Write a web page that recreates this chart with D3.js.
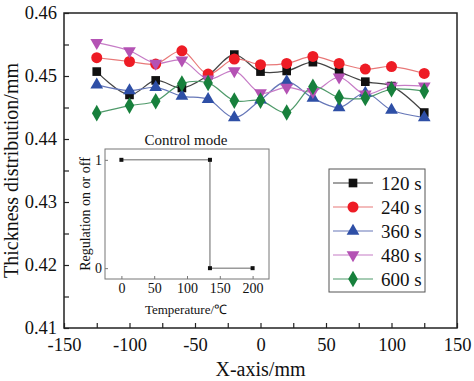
<!DOCTYPE html>
<html><head><meta charset="utf-8">
<script src="https://cdn.jsdelivr.net/npm/d3@7"></script>
<style>body{margin:0;background:#fff}svg{display:block}</style>
</head><body>
<script>
const xPos = [-125,-100,-80,-60,-40,-20,0,20,40,60,80,100,125];
const s120 = [0.4507,0.4470,0.4493,0.4481,0.4501,0.4534,0.4507,0.4508,0.4522,0.4507,0.4491,0.4484,0.4442];
const s240 = [0.4529,0.4523,0.4519,0.4540,0.4503,0.4527,0.4518,0.4520,0.4531,0.4520,0.4511,0.4515,0.4504];
const s360 = [0.4486,0.4477,0.4482,0.4468,0.4463,0.4434,0.4462,0.4491,0.4465,0.4450,0.4473,0.4446,0.4434];
const s480 = [0.4553,0.4540,0.4520,0.4525,0.4495,0.4508,0.4473,0.4482,0.4475,0.4498,0.4471,0.4484,0.4484];
const s600 = [0.4441,0.4453,0.4460,0.4488,0.4489,0.4461,0.4461,0.4442,0.4483,0.4466,0.4465,0.4479,0.4476];
const seriesNames = ["120 s","240 s","360 s","480 s","600 s"];
const xTicks = [-150,-100,-50,0,50,100,150];
const yTicks = [0.41,0.42,0.43,0.44,0.45,0.46];
const insetTemp = [0,135,135,200];
const insetState = [1,1,0,0];
const insetXTicks = [0,50,100,150,200];
const insetYTicks = [0,1];

const FONT='"Liberation Serif", "Times New Roman", serif';
const W=474,H=381;
const svg=d3.select("body").append("svg").attr("width",W).attr("height",H).attr("font-family",FONT);
const m={l:64,r:17,t:13,b:53};
const x=d3.scaleLinear().domain([-150,150]).range([m.l,W-m.r]);
const y=d3.scaleLinear().domain([0.41,0.46]).range([H-m.b,m.t]);

const styles=[
 {sym:d3.symbolSquare,size:75,fill:"#111",line:"#444",rot:0},
 {sym:d3.symbolCircle,size:95,fill:"#ee1c25",line:"#e87878",rot:0},
 {sym:d3.symbolTriangle,size:70,fill:"#2e4fa6",line:"#6677b8",rot:0},
 {sym:d3.symbolTriangle,size:70,fill:"#b452b4",line:"#c67cc6",rot:180},
 {sym:d3.symbolDiamond,size:80,fill:"#17803c",line:"#4f9a6a",rot:0}
];
const data=[s120,s240,s360,s480,s600];

function serif(g){g.attr("font-family",FONT).selectAll("text").attr("font-family",FONT).attr("fill","#111");}

// axes
const gx=svg.append("g").attr("transform",`translate(0,${H-m.b})`)
 .call(d3.axisBottom(x).tickValues(d3.range(-150,151,25)).tickSizeInner(-5).tickSizeOuter(0).tickFormat(d=>xTicks.includes(d)?d:""));
gx.selectAll("text").attr("dy",null).attr("y",23).attr("font-size","18.5px");
serif(gx);
const gy=svg.append("g").attr("transform",`translate(${m.l},0)`)
 .call(d3.axisLeft(y).tickValues(d3.range(0,11).map(i=>0.41+i*0.005)).tickSizeInner(-5).tickSizeOuter(0)
 .tickFormat(d=>{const v=yTicks.find(t=>Math.abs(t-d)<1e-9);return v!==undefined?d3.format(".2f")(v):"";}));
gy.selectAll("text").attr("x",-7).attr("font-size","18.5px");
serif(gy);
svg.selectAll(".domain").remove();
svg.selectAll(".tick line").attr("stroke","#222").attr("stroke-width",1.2);
svg.append("rect").attr("x",m.l).attr("y",m.t).attr("width",W-m.r-m.l).attr("height",H-m.b-m.t)
 .attr("fill","none").attr("stroke","#222").attr("stroke-width",1.5);

svg.append("text").attr("x",(m.l+W-m.r)/2).attr("y",376).attr("text-anchor","middle").attr("font-size","20px").attr("fill","#111").text("X-axis/mm");
svg.append("text").attr("transform",`translate(18,${(m.t+H-m.b)/2}) rotate(-90)`).attr("text-anchor","middle").attr("font-size","20px").attr("fill","#111").text("Thickness distribution/mm");

// series
const line=d3.line().x((d,i)=>x(xPos[i])).y(d=>y(d)).curve(d3.curveCatmullRom.alpha(0.5));
data.forEach((s,k)=>{
 svg.append("path").attr("d",line(s)).attr("fill","none").attr("stroke",styles[k].line).attr("stroke-width",1.2);
});
data.forEach((s,k)=>{
 const st=styles[k];
 svg.append("g").selectAll("path").data(s).join("path")
  .attr("d",d3.symbol().type(st.sym).size(st.size))
  .attr("transform",(d,i)=>`translate(${x(xPos[i])},${y(d)}) rotate(${st.rot})`)
  .attr("fill",st.fill);
});

// legend
const lg=svg.append("g");
lg.append("rect").attr("x",329).attr("y",169).attr("width",96).attr("height",123).attr("fill","#fff").attr("stroke","#555").attr("stroke-width",1);
seriesNames.forEach((n,k)=>{
 const yy=183+k*24,st=styles[k];
 lg.append("line").attr("x1",333).attr("x2",373).attr("y1",yy).attr("y2",yy).attr("stroke",st.line).attr("stroke-width",1.2);
 lg.append("path").attr("d",d3.symbol().type(st.sym).size(st.size)).attr("transform",`translate(353,${yy}) rotate(${st.rot})`).attr("fill",st.fill);
 lg.append("text").attr("x",381).attr("y",yy).attr("dy","0.35em").attr("font-size","19px").attr("fill","#111").text(n);
});

// inset
const ix=d3.scaleLinear().domain([-25,225]).range([105,269]);
const iy=d3.scaleLinear().domain([-0.1,1.1]).range([279,149]);
const ig=svg.append("g");
ig.append("rect").attr("x",105).attr("y",149).attr("width",164).attr("height",130).attr("fill","#fff").attr("stroke","#777").attr("stroke-width",1);
const ibx=ig.append("g").attr("transform","translate(0,279)").call(d3.axisBottom(ix).tickValues(insetXTicks).tickSize(-3).tickFormat(d3.format("d")));
ibx.selectAll("text").attr("dy",null).attr("y",14).attr("font-size","14px");
serif(ibx);
const iby=ig.append("g").attr("transform","translate(105,0)").call(d3.axisLeft(iy).tickValues(insetYTicks).tickSize(-3).tickFormat(d3.format("d")));
iby.selectAll("text").attr("x",-3).attr("font-size","14px");
serif(iby);
ig.selectAll(".domain").remove();
ig.selectAll(".tick line").attr("stroke","#777");
const il=d3.line().x((d,i)=>ix(insetTemp[i])).y(d=>iy(d));
ig.append("path").attr("d",il(insetState)).attr("fill","none").attr("stroke","#666").attr("stroke-width",1);
ig.selectAll(".ipt").data(insetState).join("rect").attr("class","ipt")
 .attr("x",(d,i)=>ix(insetTemp[i])-2).attr("y",d=>iy(d)-2).attr("width",4).attr("height",4).attr("fill","#111");
ig.append("text").attr("x",186).attr("y",145).attr("text-anchor","middle").attr("font-size","15px").attr("fill","#111").text("Control mode");
ig.append("text").attr("transform","translate(90,214) rotate(-90)").attr("text-anchor","middle").attr("font-size","14px").attr("fill","#111").text("Regulation on or off");
ig.append("text").attr("x",186).attr("y",314).attr("text-anchor","middle").attr("font-size","13px").attr("fill","#111").text("Temperature/℃");
</script>
</body></html>
